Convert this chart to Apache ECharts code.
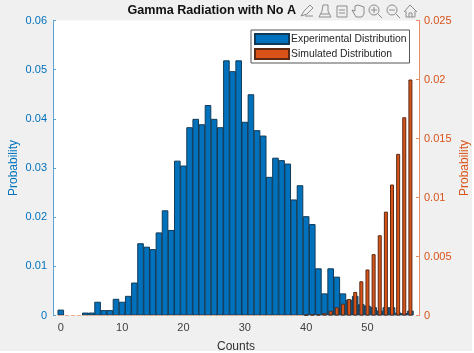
<!DOCTYPE html>
<html>
<head>
<meta charset="utf-8">
<title>Gamma Radiation</title>
<style>
html, body { margin: 0; padding: 0; background: #fff; }
#chart { width: 472px; height: 351px; }
</style>
<script src="https://cdn.jsdelivr.net/npm/echarts@6/dist/echarts.min.js"></script>
</head>
<body>
<div id="chart"></div>
<script>
var binCenters = [];
for (var b = 0; b <= 57; b++) binCenters.push(b);

var experimental = [
    0.0012, 0, 0, 0, 0.0006, 0.0006, 0.0028, 0.0011, 0.0011, 0.0034,
    0.0028, 0.004, 0.0067, 0.0147, 0.014, 0.0135, 0.0169, 0.0214, 0.0174, 0.0315,
    0.0305, 0.0383, 0.04, 0.0389, 0.0428, 0.04, 0.0383, 0.0519, 0.0497, 0.0519,
    0.0394, 0.045, 0.0377, 0.0366, 0.0282, 0.0321, 0.0316, 0.0309, 0.0236, 0.0265,
    0.0202, 0.0186, 0.0096, 0.0045, 0.0096, 0.0079, 0.0045, 0.0032, 0.004, 0.0023,
    0.002, 0.0017, 0.001, 0.0017, 0.0017, 0.0006, 0.0005, 0.001
];
var simulated = [
    0, 0, 0, 0, 0, 0, 0, 0, 0, 0,
    0, 0, 0, 0, 0, 0, 0, 0, 0, 0,
    0, 0, 0, 0, 0, 0, 0, 0, 0, 0,
    0, 0, 0, 0, 0, 0, 0, 0, 0, 0,
    0.00005, 0.0001, 0.0001, 0.0002, 0.0004, 0.0007, 0.001, 0.0014, 0.002, 0.0029,
    0.0039, 0.0052, 0.0068, 0.0088, 0.0111, 0.0137, 0.0168, 0.02
];
var countTicks = [0, 10, 20, 30, 40, 50];

var BLUE = '#0072BD', ORANGE = '#D95319', ICON = '#8c8c8c';
var FONT = '"Liberation Sans", Arial, sans-serif';

// empty bins only leave a pale dash on the baseline
function pairs(values, zeroColor) {
    return values.map(function (v, i) {
        if (v > 0) return [binCenters[i], v];
        if (!zeroColor) return [binCenters[i], null];
        return { value: [binCenters[i], v], itemStyle: { borderColor: zeroColor } };
    });
}

// figure toolbar, only decoration
function toolbarIcons() {
    var st = { stroke: ICON, fill: 'none', lineWidth: 1 };
    function poly(pts) { return { type: 'polyline', silent: true, shape: { points: pts }, style: st }; }
    function circle(x, y, r) { return { type: 'circle', silent: true, shape: { cx: x, cy: y, r: r }, style: st }; }
    function rect(x, y, w, h) { return { type: 'rect', silent: true, shape: { x: x, y: y, width: w, height: h }, style: st }; }
    return [
        poly([[301, 16], [304, 11], [310, 5], [313, 8], [307, 14], [301, 16]]),
        poly([[305, 16], [313, 16]]),
        poly([[323, 5], [328, 5], [328, 11], [331, 17], [319, 17], [322, 11], [323, 5]]),
        poly([[321, 14], [329, 14]]),
        rect(337, 6, 10, 11),
        poly([[339, 10], [345, 10]]),
        poly([[339, 13], [345, 13]]),
        poly([[356, 17], [352, 10], [355, 11], [355, 6], [358, 5], [361, 6], [364, 7], [364, 14], [362, 17], [356, 17]]),
        circle(374, 10, 5),
        poly([[378, 14], [382, 18]]),
        poly([[371, 10], [377, 10]]),
        poly([[374, 7], [374, 13]]),
        circle(392, 10, 5),
        poly([[396, 14], [400, 18]]),
        poly([[389, 10], [395, 10]]),
        poly([[404, 12], [410, 5], [417, 12]]),
        poly([[406, 11], [406, 17], [415, 17], [415, 11]]),
        poly([[409, 17], [409, 13], [412, 13], [412, 17]])
    ];
}

var chart = echarts.init(document.getElementById('chart'), null, { renderer: 'canvas' });
var xBase = {
    type: 'value',
    min: -1.27,
    max: 58.4,
    splitLine: { show: false },
    axisTick: { show: false }
};
chart.setOption({
    backgroundColor: '#f0f0f0',
    animation: false,
    textStyle: { fontFamily: FONT },
    title: {
        text: 'Gamma Radiation with No A',
        left: 127.5,
        top: 4.5,
        padding: 0,
        textStyle: { fontFamily: FONT, fontSize: 12.6, fontWeight: 'bold', color: '#111' }
    },
    legend: {
        left: 251,
        top: 30,
        orient: 'vertical',
        padding: [3, 3, 3, 3],
        itemWidth: 34,
        itemHeight: 10,
        itemGap: 3,
        icon: 'rect',
        backgroundColor: '#fff',
        borderColor: '#555',
        borderWidth: 1,
        textStyle: { fontFamily: FONT, fontSize: 10.4, color: '#262626', padding: [0, 0, 0, -3] },
        data: ['Experimental Distribution', 'Simulated Distribution']
    },
    grid: {
        left: 53, right: 53, top: 20.5, bottom: 35.5,
        outerBoundsMode: 'none',
        show: true, backgroundColor: '#fff', borderWidth: 0
    },
    xAxis: [
        Object.assign({}, xBase, {
            name: 'Counts',
            nameLocation: 'middle',
            nameGap: 25,
            nameTextStyle: { fontFamily: FONT, fontSize: 12, color: '#303030' },
            axisLine: { show: false },
            axisLabel: { customValues: countTicks, fontSize: 11, color: '#404040', margin: 7 }
        }),
        Object.assign({}, xBase, { position: 'bottom', show: false })
    ],
    yAxis: [
        {
            type: 'value',
            position: 'left',
            min: 0,
            max: 0.06,
            interval: 0.01,
            name: 'Probability',
            nameLocation: 'middle',
            nameGap: 33,
            nameMoveOverlap: false,
            nameTextStyle: { fontFamily: FONT, fontSize: 12, color: BLUE },
            splitLine: { show: false },
            axisLine: { show: true, onZero: false, lineStyle: { color: '#5aa3d3' } },
            axisTick: { show: true, inside: true, length: 3, lineStyle: { color: '#5aa3d3' } },
            axisLabel: { fontSize: 11, color: BLUE, margin: 6 }
        },
        {
            type: 'value',
            position: 'right',
            min: 0,
            max: 0.025,
            interval: 0.005,
            name: 'Probability',
            nameLocation: 'middle',
            nameRotate: 90,
            nameGap: 40,
            nameMoveOverlap: false,
            nameTextStyle: { fontFamily: FONT, fontSize: 12, color: ORANGE },
            splitLine: { show: false },
            axisLine: { show: true, onZero: false, lineStyle: { color: '#e58e66' } },
            axisTick: { show: true, inside: true, length: 3, lineStyle: { color: '#e58e66' } },
            axisLabel: { fontSize: 11, color: ORANGE, margin: 5 }
        }
    ],
    series: [
        {
            name: 'Experimental Distribution',
            type: 'bar',
            xAxisIndex: 0,
            yAxisIndex: 0,
            barWidth: 6.6,
            data: pairs(experimental),
            itemStyle: { color: BLUE, borderColor: '#123a57', borderWidth: 1 }
        },
        {
            name: 'Simulated Distribution',
            type: 'bar',
            xAxisIndex: 1,
            yAxisIndex: 1,
            barWidth: 4,
            data: pairs(simulated, '#e9ae8c'),
            itemStyle: { color: ORANGE, borderColor: '#5a2a15', borderWidth: 1 }
        }
    ],
    graphic: toolbarIcons()
});
</script>
</body>
</html>
